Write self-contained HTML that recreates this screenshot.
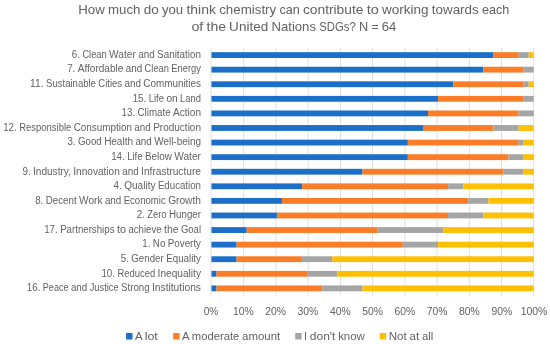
<!DOCTYPE html>
<html lang="en"><head><meta charset="utf-8"><title>Chemistry and the SDGs</title>
<style>
html,body{margin:0;padding:0;background:#fff}
svg{display:block}
text{font-family:"Liberation Sans",sans-serif;fill:#626262}
</style></head><body>
<svg width="550" height="344" viewBox="0 0 550 344">
<rect width="550" height="344" fill="#fff"/>
<text y="13.80" font-size="13.56"><tspan x="78.21" textLength="26.56" lengthAdjust="spacingAndGlyphs">How</tspan> <tspan x="107.99" textLength="32.43" lengthAdjust="spacingAndGlyphs">much</tspan> <tspan x="143.65" textLength="15.02" lengthAdjust="spacingAndGlyphs">do</tspan> <tspan x="161.90" textLength="21.31" lengthAdjust="spacingAndGlyphs">you</tspan> <tspan x="186.44" textLength="29.54" lengthAdjust="spacingAndGlyphs">think</tspan> <tspan x="219.20" textLength="57.01" lengthAdjust="spacingAndGlyphs">chemistry</tspan> <tspan x="279.44" textLength="20.25" lengthAdjust="spacingAndGlyphs">can</tspan> <tspan x="302.91" textLength="60.56" lengthAdjust="spacingAndGlyphs">contribute</tspan> <tspan x="366.69" textLength="12.17" lengthAdjust="spacingAndGlyphs">to</tspan> <tspan x="382.09" textLength="46.54" lengthAdjust="spacingAndGlyphs">working</tspan> <tspan x="431.86" textLength="46.84" lengthAdjust="spacingAndGlyphs">towards</tspan> <tspan x="481.93" textLength="27.47" lengthAdjust="spacingAndGlyphs">each</tspan></text>
<text y="30.80" font-size="13.56"><tspan x="191.41" textLength="11.88" lengthAdjust="spacingAndGlyphs">of</tspan> <tspan x="206.52" textLength="19.38" lengthAdjust="spacingAndGlyphs">the</tspan> <tspan x="229.12" textLength="39.15" lengthAdjust="spacingAndGlyphs">United</tspan> <tspan x="271.50" textLength="44.47" lengthAdjust="spacingAndGlyphs">Nations</tspan> <tspan x="319.19" textLength="36.53" lengthAdjust="spacingAndGlyphs">SDGs?</tspan> <tspan x="358.95" textLength="9.21" lengthAdjust="spacingAndGlyphs">N</tspan> <tspan x="371.39" textLength="7.11" lengthAdjust="spacingAndGlyphs">=</tspan> <tspan x="381.72" textLength="14.47" lengthAdjust="spacingAndGlyphs">64</tspan></text>
<rect x="210.60" y="47.80" width="0.8" height="247.86" fill="#d9d9d9"/>
<rect x="243.28" y="47.80" width="0.8" height="247.86" fill="#d9d9d9"/>
<rect x="275.51" y="47.80" width="0.8" height="247.86" fill="#d9d9d9"/>
<rect x="307.74" y="47.80" width="0.8" height="247.86" fill="#d9d9d9"/>
<rect x="339.97" y="47.80" width="0.8" height="247.86" fill="#d9d9d9"/>
<rect x="372.20" y="47.80" width="0.8" height="247.86" fill="#d9d9d9"/>
<rect x="404.43" y="47.80" width="0.8" height="247.86" fill="#d9d9d9"/>
<rect x="436.66" y="47.80" width="0.8" height="247.86" fill="#d9d9d9"/>
<rect x="468.89" y="47.80" width="0.8" height="247.86" fill="#d9d9d9"/>
<rect x="501.12" y="47.80" width="0.8" height="247.86" fill="#d9d9d9"/>
<rect x="533.35" y="47.80" width="0.8" height="247.86" fill="#d9d9d9"/>
<rect x="211.45" y="52.17" width="282.01" height="5.83" fill="#1b6fc8"/>
<rect x="493.46" y="52.17" width="25.18" height="5.83" fill="#fb7d27"/>
<rect x="518.64" y="52.17" width="10.07" height="5.83" fill="#a5a5a5"/>
<rect x="528.71" y="52.17" width="5.04" height="5.83" fill="#ffc000"/>
<text y="57.89" font-size="10.18"><tspan x="71.84" textLength="8.14" lengthAdjust="spacingAndGlyphs">6.</tspan> <tspan x="82.40" textLength="24.28" lengthAdjust="spacingAndGlyphs">Clean</tspan> <tspan x="109.10" textLength="26.75" lengthAdjust="spacingAndGlyphs">Water</tspan> <tspan x="138.27" textLength="16.40" lengthAdjust="spacingAndGlyphs">and</tspan> <tspan x="157.09" textLength="43.91" lengthAdjust="spacingAndGlyphs">Sanitation</tspan></text>
<rect x="211.45" y="66.75" width="271.94" height="5.83" fill="#1b6fc8"/>
<rect x="483.39" y="66.75" width="40.29" height="5.83" fill="#fb7d27"/>
<rect x="523.68" y="66.75" width="10.07" height="5.83" fill="#a5a5a5"/>
<text y="72.47" font-size="10.18"><tspan x="67.13" textLength="8.14" lengthAdjust="spacingAndGlyphs">7.</tspan> <tspan x="77.69" textLength="45.67" lengthAdjust="spacingAndGlyphs">Affordable</tspan> <tspan x="125.79" textLength="16.40" lengthAdjust="spacingAndGlyphs">and</tspan> <tspan x="144.61" textLength="24.28" lengthAdjust="spacingAndGlyphs">Clean</tspan> <tspan x="171.31" textLength="29.69" lengthAdjust="spacingAndGlyphs">Energy</tspan></text>
<rect x="211.45" y="81.33" width="241.73" height="5.83" fill="#1b6fc8"/>
<rect x="453.18" y="81.33" width="70.50" height="5.83" fill="#fb7d27"/>
<rect x="523.68" y="81.33" width="5.04" height="5.83" fill="#a5a5a5"/>
<rect x="528.71" y="81.33" width="5.04" height="5.83" fill="#ffc000"/>
<text y="87.05" font-size="10.18"><tspan x="30.06" textLength="13.57" lengthAdjust="spacingAndGlyphs">11.</tspan> <tspan x="46.06" textLength="49.88" lengthAdjust="spacingAndGlyphs">Sustainable</tspan> <tspan x="98.36" textLength="23.68" lengthAdjust="spacingAndGlyphs">Cities</tspan> <tspan x="124.46" textLength="16.40" lengthAdjust="spacingAndGlyphs">and</tspan> <tspan x="143.28" textLength="57.72" lengthAdjust="spacingAndGlyphs">Communities</tspan></text>
<rect x="211.45" y="95.91" width="226.62" height="5.83" fill="#1b6fc8"/>
<rect x="438.07" y="95.91" width="85.61" height="5.83" fill="#fb7d27"/>
<rect x="523.68" y="95.91" width="10.07" height="5.83" fill="#a5a5a5"/>
<text y="101.63" font-size="10.18"><tspan x="132.66" textLength="13.57" lengthAdjust="spacingAndGlyphs">15.</tspan> <tspan x="148.66" textLength="15.31" lengthAdjust="spacingAndGlyphs">Life</tspan> <tspan x="166.39" textLength="11.29" lengthAdjust="spacingAndGlyphs">on</tspan> <tspan x="180.09" textLength="20.91" lengthAdjust="spacingAndGlyphs">Land</tspan></text>
<rect x="211.45" y="110.49" width="216.55" height="5.83" fill="#1b6fc8"/>
<rect x="428.00" y="110.49" width="90.65" height="5.83" fill="#fb7d27"/>
<rect x="518.64" y="110.49" width="15.11" height="5.83" fill="#a5a5a5"/>
<text y="116.21" font-size="10.18"><tspan x="121.54" textLength="13.57" lengthAdjust="spacingAndGlyphs">13.</tspan> <tspan x="137.54" textLength="33.04" lengthAdjust="spacingAndGlyphs">Climate</tspan> <tspan x="173.01" textLength="27.99" lengthAdjust="spacingAndGlyphs">Action</tspan></text>
<rect x="211.45" y="125.07" width="211.51" height="5.83" fill="#1b6fc8"/>
<rect x="422.96" y="125.07" width="70.50" height="5.83" fill="#fb7d27"/>
<rect x="493.46" y="125.07" width="25.18" height="5.83" fill="#a5a5a5"/>
<rect x="518.64" y="125.07" width="15.11" height="5.83" fill="#ffc000"/>
<text y="130.79" font-size="10.18"><tspan x="3.13" textLength="13.57" lengthAdjust="spacingAndGlyphs">12.</tspan> <tspan x="19.13" textLength="52.16" lengthAdjust="spacingAndGlyphs">Responsible</tspan> <tspan x="73.71" textLength="58.23" lengthAdjust="spacingAndGlyphs">Consumption</tspan> <tspan x="134.37" textLength="16.40" lengthAdjust="spacingAndGlyphs">and</tspan> <tspan x="153.19" textLength="47.81" lengthAdjust="spacingAndGlyphs">Production</tspan></text>
<rect x="211.45" y="139.66" width="196.40" height="5.83" fill="#1b6fc8"/>
<rect x="407.85" y="139.66" width="110.79" height="5.83" fill="#fb7d27"/>
<rect x="518.64" y="139.66" width="5.04" height="5.83" fill="#a5a5a5"/>
<rect x="523.68" y="139.66" width="10.07" height="5.83" fill="#ffc000"/>
<text y="145.37" font-size="10.18"><tspan x="67.45" textLength="8.14" lengthAdjust="spacingAndGlyphs">3.</tspan> <tspan x="78.01" textLength="23.70" lengthAdjust="spacingAndGlyphs">Good</tspan> <tspan x="104.14" textLength="28.83" lengthAdjust="spacingAndGlyphs">Health</tspan> <tspan x="135.39" textLength="16.40" lengthAdjust="spacingAndGlyphs">and</tspan> <tspan x="154.21" textLength="46.79" lengthAdjust="spacingAndGlyphs">Well-being</tspan></text>
<rect x="211.45" y="154.23" width="196.40" height="5.83" fill="#1b6fc8"/>
<rect x="407.85" y="154.23" width="100.72" height="5.83" fill="#fb7d27"/>
<rect x="508.57" y="154.23" width="15.11" height="5.83" fill="#a5a5a5"/>
<rect x="523.68" y="154.23" width="10.07" height="5.83" fill="#ffc000"/>
<text y="159.95" font-size="10.18"><tspan x="111.20" textLength="13.57" lengthAdjust="spacingAndGlyphs">14.</tspan> <tspan x="127.20" textLength="15.31" lengthAdjust="spacingAndGlyphs">Life</tspan> <tspan x="144.93" textLength="26.90" lengthAdjust="spacingAndGlyphs">Below</tspan> <tspan x="174.25" textLength="26.75" lengthAdjust="spacingAndGlyphs">Water</tspan></text>
<rect x="211.45" y="168.82" width="151.08" height="5.83" fill="#1b6fc8"/>
<rect x="362.53" y="168.82" width="141.01" height="5.83" fill="#fb7d27"/>
<rect x="503.53" y="168.82" width="20.14" height="5.83" fill="#a5a5a5"/>
<rect x="523.68" y="168.82" width="10.07" height="5.83" fill="#ffc000"/>
<text y="174.53" font-size="10.18"><tspan x="22.49" textLength="8.14" lengthAdjust="spacingAndGlyphs">9.</tspan> <tspan x="33.05" textLength="37.81" lengthAdjust="spacingAndGlyphs">Industry,</tspan> <tspan x="73.29" textLength="46.55" lengthAdjust="spacingAndGlyphs">Innovation</tspan> <tspan x="122.26" textLength="16.40" lengthAdjust="spacingAndGlyphs">and</tspan> <tspan x="141.09" textLength="59.91" lengthAdjust="spacingAndGlyphs">Infrastructure</tspan></text>
<rect x="211.45" y="183.40" width="90.65" height="5.83" fill="#1b6fc8"/>
<rect x="302.10" y="183.40" width="146.04" height="5.83" fill="#fb7d27"/>
<rect x="448.14" y="183.40" width="15.11" height="5.83" fill="#a5a5a5"/>
<rect x="463.25" y="183.40" width="70.50" height="5.83" fill="#ffc000"/>
<text y="189.11" font-size="10.18"><tspan x="113.59" textLength="8.14" lengthAdjust="spacingAndGlyphs">4.</tspan> <tspan x="124.15" textLength="31.34" lengthAdjust="spacingAndGlyphs">Quality</tspan> <tspan x="157.92" textLength="43.08" lengthAdjust="spacingAndGlyphs">Education</tspan></text>
<rect x="211.45" y="197.97" width="70.50" height="5.83" fill="#1b6fc8"/>
<rect x="281.95" y="197.97" width="186.33" height="5.83" fill="#fb7d27"/>
<rect x="468.28" y="197.97" width="20.14" height="5.83" fill="#a5a5a5"/>
<rect x="488.43" y="197.97" width="45.32" height="5.83" fill="#ffc000"/>
<text y="203.69" font-size="10.18"><tspan x="35.20" textLength="8.14" lengthAdjust="spacingAndGlyphs">8.</tspan> <tspan x="45.76" textLength="30.92" lengthAdjust="spacingAndGlyphs">Decent</tspan> <tspan x="79.11" textLength="23.35" lengthAdjust="spacingAndGlyphs">Work</tspan> <tspan x="104.88" textLength="16.40" lengthAdjust="spacingAndGlyphs">and</tspan> <tspan x="123.70" textLength="42.03" lengthAdjust="spacingAndGlyphs">Economic</tspan> <tspan x="168.15" textLength="32.85" lengthAdjust="spacingAndGlyphs">Growth</tspan></text>
<rect x="211.45" y="212.55" width="65.47" height="5.83" fill="#1b6fc8"/>
<rect x="276.92" y="212.55" width="171.22" height="5.83" fill="#fb7d27"/>
<rect x="448.14" y="212.55" width="35.25" height="5.83" fill="#a5a5a5"/>
<rect x="483.39" y="212.55" width="50.36" height="5.83" fill="#ffc000"/>
<text y="218.27" font-size="10.18"><tspan x="136.63" textLength="8.14" lengthAdjust="spacingAndGlyphs">2.</tspan> <tspan x="147.20" textLength="19.41" lengthAdjust="spacingAndGlyphs">Zero</tspan> <tspan x="169.03" textLength="31.97" lengthAdjust="spacingAndGlyphs">Hunger</tspan></text>
<rect x="211.45" y="227.14" width="35.25" height="5.83" fill="#1b6fc8"/>
<rect x="246.70" y="227.14" width="130.93" height="5.83" fill="#fb7d27"/>
<rect x="377.64" y="227.14" width="65.47" height="5.83" fill="#a5a5a5"/>
<rect x="443.10" y="227.14" width="90.65" height="5.83" fill="#ffc000"/>
<text y="232.85" font-size="10.18"><tspan x="44.14" textLength="13.57" lengthAdjust="spacingAndGlyphs">17.</tspan> <tspan x="60.14" textLength="54.35" lengthAdjust="spacingAndGlyphs">Partnerships</tspan> <tspan x="116.91" textLength="9.14" lengthAdjust="spacingAndGlyphs">to</tspan> <tspan x="128.47" textLength="33.11" lengthAdjust="spacingAndGlyphs">achieve</tspan> <tspan x="164.01" textLength="14.56" lengthAdjust="spacingAndGlyphs">the</tspan> <tspan x="180.99" textLength="20.01" lengthAdjust="spacingAndGlyphs">Goal</tspan></text>
<rect x="211.45" y="241.72" width="25.18" height="5.83" fill="#1b6fc8"/>
<rect x="236.63" y="241.72" width="166.19" height="5.83" fill="#fb7d27"/>
<rect x="402.82" y="241.72" width="35.25" height="5.83" fill="#a5a5a5"/>
<rect x="438.07" y="241.72" width="95.68" height="5.83" fill="#ffc000"/>
<text y="247.43" font-size="10.18"><tspan x="142.26" textLength="8.14" lengthAdjust="spacingAndGlyphs">1.</tspan> <tspan x="152.82" textLength="12.57" lengthAdjust="spacingAndGlyphs">No</tspan> <tspan x="167.82" textLength="33.18" lengthAdjust="spacingAndGlyphs">Poverty</tspan></text>
<rect x="211.45" y="256.29" width="25.18" height="5.83" fill="#1b6fc8"/>
<rect x="236.63" y="256.29" width="65.47" height="5.83" fill="#fb7d27"/>
<rect x="302.10" y="256.29" width="30.22" height="5.83" fill="#a5a5a5"/>
<rect x="332.31" y="256.29" width="201.44" height="5.83" fill="#ffc000"/>
<text y="262.01" font-size="10.18"><tspan x="120.74" textLength="8.14" lengthAdjust="spacingAndGlyphs">5.</tspan> <tspan x="131.30" textLength="32.43" lengthAdjust="spacingAndGlyphs">Gender</tspan> <tspan x="166.16" textLength="34.84" lengthAdjust="spacingAndGlyphs">Equality</tspan></text>
<rect x="211.45" y="270.88" width="5.04" height="5.83" fill="#1b6fc8"/>
<rect x="216.49" y="270.88" width="90.65" height="5.83" fill="#fb7d27"/>
<rect x="307.13" y="270.88" width="30.22" height="5.83" fill="#a5a5a5"/>
<rect x="337.35" y="270.88" width="196.40" height="5.83" fill="#ffc000"/>
<text y="276.59" font-size="10.18"><tspan x="101.42" textLength="13.57" lengthAdjust="spacingAndGlyphs">10.</tspan> <tspan x="117.42" textLength="37.73" lengthAdjust="spacingAndGlyphs">Reduced</tspan> <tspan x="157.57" textLength="43.43" lengthAdjust="spacingAndGlyphs">Inequality</tspan></text>
<rect x="211.45" y="285.45" width="5.04" height="5.83" fill="#1b6fc8"/>
<rect x="216.49" y="285.45" width="105.75" height="5.83" fill="#fb7d27"/>
<rect x="322.24" y="285.45" width="40.29" height="5.83" fill="#a5a5a5"/>
<rect x="362.53" y="285.45" width="171.22" height="5.83" fill="#ffc000"/>
<text y="291.17" font-size="10.18"><tspan x="26.83" textLength="13.57" lengthAdjust="spacingAndGlyphs">16.</tspan> <tspan x="42.82" textLength="25.66" lengthAdjust="spacingAndGlyphs">Peace</tspan> <tspan x="70.90" textLength="16.40" lengthAdjust="spacingAndGlyphs">and</tspan> <tspan x="89.73" textLength="28.96" lengthAdjust="spacingAndGlyphs">Justice</tspan> <tspan x="121.11" textLength="28.41" lengthAdjust="spacingAndGlyphs">Strong</tspan> <tspan x="151.95" textLength="49.05" lengthAdjust="spacingAndGlyphs">Institutions</tspan></text>
<text y="314.50" font-size="11.40"><tspan x="203.72" textLength="14.66" lengthAdjust="spacingAndGlyphs">0%</tspan></text>
<text y="314.50" font-size="11.40"><tspan x="232.98" textLength="20.74" lengthAdjust="spacingAndGlyphs">10%</tspan></text>
<text y="314.50" font-size="11.40"><tspan x="265.28" textLength="20.74" lengthAdjust="spacingAndGlyphs">20%</tspan></text>
<text y="314.50" font-size="11.40"><tspan x="297.58" textLength="20.74" lengthAdjust="spacingAndGlyphs">30%</tspan></text>
<text y="314.50" font-size="11.40"><tspan x="329.88" textLength="20.74" lengthAdjust="spacingAndGlyphs">40%</tspan></text>
<text y="314.50" font-size="11.40"><tspan x="362.18" textLength="20.74" lengthAdjust="spacingAndGlyphs">50%</tspan></text>
<text y="314.50" font-size="11.40"><tspan x="394.48" textLength="20.74" lengthAdjust="spacingAndGlyphs">60%</tspan></text>
<text y="314.50" font-size="11.40"><tspan x="426.78" textLength="20.74" lengthAdjust="spacingAndGlyphs">70%</tspan></text>
<text y="314.50" font-size="11.40"><tspan x="459.08" textLength="20.74" lengthAdjust="spacingAndGlyphs">80%</tspan></text>
<text y="314.50" font-size="11.40"><tspan x="491.38" textLength="20.74" lengthAdjust="spacingAndGlyphs">90%</tspan></text>
<text y="314.50" font-size="11.40"><tspan x="520.64" textLength="26.82" lengthAdjust="spacingAndGlyphs">100%</tspan></text>
<rect x="126.10" y="333.0" width="6.4" height="6.5" fill="#1b6fc8"/>
<text y="339.60" font-size="11.40"><tspan x="135.00" textLength="6.94" lengthAdjust="spacingAndGlyphs">A</tspan> <tspan x="144.66" textLength="13.10" lengthAdjust="spacingAndGlyphs">lot</tspan></text>
<rect x="173.20" y="333.0" width="6.4" height="6.5" fill="#fb7d27"/>
<text y="339.60" font-size="11.40"><tspan x="182.10" textLength="6.94" lengthAdjust="spacingAndGlyphs">A</tspan> <tspan x="191.76" textLength="47.63" lengthAdjust="spacingAndGlyphs">moderate</tspan> <tspan x="242.09" textLength="38.18" lengthAdjust="spacingAndGlyphs">amount</tspan></text>
<rect x="295.20" y="333.0" width="6.4" height="6.5" fill="#a5a5a5"/>
<text y="339.60" font-size="11.40"><tspan x="304.10" textLength="3.02" lengthAdjust="spacingAndGlyphs">I</tspan> <tspan x="309.84" textLength="25.61" lengthAdjust="spacingAndGlyphs">don't</tspan> <tspan x="338.15" textLength="26.62" lengthAdjust="spacingAndGlyphs">know</tspan></text>
<rect x="379.80" y="333.0" width="6.4" height="6.5" fill="#ffc000"/>
<text y="339.60" font-size="11.40"><tspan x="388.70" textLength="18.09" lengthAdjust="spacingAndGlyphs">Not</tspan> <tspan x="409.51" textLength="9.66" lengthAdjust="spacingAndGlyphs">at</tspan> <tspan x="421.88" textLength="11.26" lengthAdjust="spacingAndGlyphs">all</tspan></text>
</svg>
</body></html>
